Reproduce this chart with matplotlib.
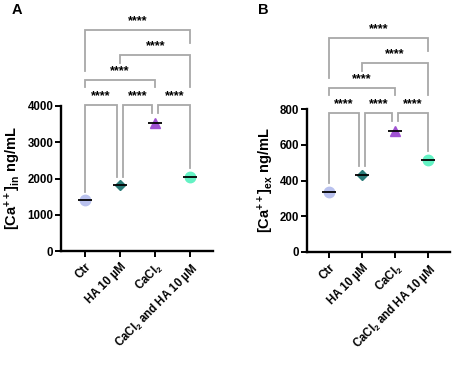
import matplotlib.pyplot as plt
import numpy as np

plt.rcParams['font.family'] = ['Liberation Sans', 'DejaVu Sans']
plt.rcParams['font.weight'] = 'bold'
plt.rcParams['axes.labelweight'] = 'bold'
plt.rcParams['mathtext.fontset'] = 'custom'
plt.rcParams['mathtext.rm'] = 'Liberation Sans:bold'
plt.rcParams['mathtext.it'] = 'Liberation Sans:bold'
plt.rcParams['mathtext.bf'] = 'Liberation Sans:bold'

# Data
groups = ['Ctr', 'HA 10 µM', 'CaCl$_2$', 'CaCl$_2$ and HA 10 µM']
ca_in = [1405, 1815, 3525, 2045]
ca_ex = [338, 431, 676, 515]

colors = ['#b9c1ee', '#2a7b78', '#a052d2', '#64f2c4']
markers = ['o', 'D', '^', 'o']
msizes = [7.5, 5.5, 7.5, 7.5]

# pairwise comparisons: (i, j, level, left leg end, right leg end) - leg ends in levels, None = down to point
pairs = [(0, 1, 0, None, None), (1, 2, 0, None, None), (2, 3, 0, None, None),
         (0, 2, 1, 0.7, 0.7), (1, 3, 2, 1.67, 0.7), (0, 3, 3, 1.37, 2.47)]
stars = '****'

W, H = 474, 373
fig = plt.figure(figsize=(W / 100, H / 100), dpi=100)
axA = fig.add_axes([61 / W, 1 - 251 / H, 152 / W, 145 / H])
axB = fig.add_axes([307 / W, 1 - 252 / H, 143 / W, 143 / H])


def panel(ax, vals, top, step_tick, base, step, ylabel, xlim):
    x = np.arange(len(vals))
    ppu = ax.get_position().height * H / top  # pixels per data unit
    for k in range(len(vals)):
        ax.plot(x[k], vals[k], marker=markers[k], color=colors[k], ms=msizes[k],
                ls='none', clip_on=False, zorder=3)
        ax.plot(x[k], vals[k], marker='_', color='black', ms=9.5, mew=1.3,
                ls='none', clip_on=False, zorder=4)

    for i, j, lev, le, re in pairs:
        y = base + lev * step
        xi, xj = float(i), float(j)
        if lev == 0:
            if i > 0:
                xi += 0.09
            if j < 3:
                xj -= 0.09
            yl = vals[i] + (10 if markers[i] == '^' else 8.5) / ppu
            yr = vals[j] + (10 if markers[j] == '^' else 8.5) / ppu
        else:
            yl = base + le * step
            yr = base + re * step
        ax.plot([xi, xi, xj, xj], [yl, y, y, yr], color='#a8a8a8', lw=1.3,
                clip_on=False, zorder=2, solid_joinstyle='miter')
        ax.annotate(stars, ((xi + xj) / 2, y), xytext=(0, 2), textcoords='offset points',
                    ha='center', va='bottom', fontsize=9, fontweight='bold',
                    annotation_clip=False)

    ax.set_xlim(*xlim)
    ax.set_ylim(0, top)
    ax.set_yticks(np.arange(0, top + 1, step_tick))
    ax.set_xticks(x)
    ax.set_xticklabels(groups, rotation=45, ha='right', rotation_mode='anchor', fontsize=8.3)
    ax.tick_params(axis='y', labelsize=8.3, width=1.4, length=4, pad=1.5)
    ax.tick_params(axis='x', width=1.4, length=4, pad=3)
    for s in ['top', 'right']:
        ax.spines[s].set_visible(False)
    for s in ['left', 'bottom']:
        ax.spines[s].set_linewidth(1.7)
    ax.set_ylabel(ylabel, fontsize=10.5, fontweight='bold', labelpad=3)


panel(axA, ca_in, 4000, 1000, 4028, 690, r'[Ca$^{++}$]$_{in}$ ng/mL', (-0.68, 3.64))
panel(axB, ca_ex, 800, 200, 779, 140, r'[Ca$^{++}$]$_{ex}$ ng/mL', (-0.656, 3.66))

fig.text(12 / W, 1 - 3 / H, 'A', fontsize=10.5, fontweight='bold', va='top')
fig.text(258 / W, 1 - 3 / H, 'B', fontsize=10.5, fontweight='bold', va='top')

fig.savefig('out.png', dpi=100)
